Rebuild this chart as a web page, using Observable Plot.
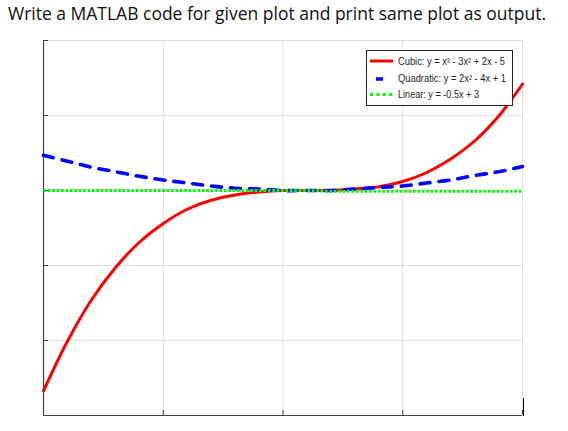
<!DOCTYPE html>
<html>
<head>
<meta charset="utf-8">
<script src="https://cdn.jsdelivr.net/npm/d3@7"></script>
<script src="https://cdn.jsdelivr.net/npm/@observablehq/plot@0.6"></script>
<style>
  html, body { margin: 0; padding: 0; background: #fff; }
  body { width: 568px; height: 431px; position: relative; overflow: hidden; }
  #title { display: block; overflow: visible; }
  #chart svg { display: block; overflow: visible; }
  #legend { position: absolute; left: 366px; top: 50px; }
  #cursor { position: absolute; left: 523px; top: 398px; width: 1px; height: 18px; background: #000; }
</style>
</head>
<body>
<svg id="title" width="568" height="30">
  <text x="8" y="20" font-family="'Open Sans', 'Noto Sans', sans-serif" font-size="18" fill="#111"
        textLength="538" lengthAdjust="spacingAndGlyphs">Write a MATLAB code for given plot and print same plot as output.</text>
</svg>
<div id="chart"></div>
<svg id="legend" width="148" height="57">
  <rect x="0.5" y="0.5" width="146" height="55" fill="#fff" stroke="#262626" stroke-width="1"></rect>
  <line x1="4" x2="27" y1="11" y2="11" stroke="#ff0000" stroke-width="3"></line>
  <line x1="10" x2="17" y1="29" y2="29" stroke="#0000ff" stroke-width="3.5"></line>
  <line x1="4" x2="27" y1="44.5" y2="44.5" stroke="#00ff00" stroke-width="3" stroke-dasharray="3,3.4"></line>
  <g font-family="'Liberation Sans', Arial, sans-serif" font-size="10" fill="#262626">
    <text x="32" y="14.5" textLength="107" lengthAdjust="spacingAndGlyphs">Cubic: y = x³ - 3x² + 2x - 5</text>
    <text x="32" y="32" textLength="108" lengthAdjust="spacingAndGlyphs">Quadratic: y = 2x² - 4x + 1</text>
    <text x="32" y="48" textLength="81" lengthAdjust="spacingAndGlyphs">Linear: y = -0.5x + 3</text>
  </g>
</svg>
<div id="cursor"></div>
<script>
// x samples (grid spans 4 intervals horizontally, 5 vertically)
const xs = [0, 0.2, 0.4, 0.6, 0.8, 1.0, 1.2, 1.4, 1.6, 1.8, 2.0, 2.2, 2.4, 2.6, 2.8, 3.0, 3.2, 3.4, 3.6, 3.8, 4.0];
const cubicY = [0.33, 0.99, 1.54, 1.97, 2.31, 2.56, 2.75, 2.87, 2.94, 2.98, 3.00, 3.00, 3.00, 3.02, 3.05, 3.12, 3.24, 3.42, 3.66, 3.99, 4.42];
const quadY  = [3.47, 3.39, 3.31, 3.25, 3.19, 3.14, 3.10, 3.06, 3.03, 3.02, 3.00, 3.00, 3.00, 3.02, 3.04, 3.06, 3.10, 3.14, 3.20, 3.25, 3.32];
const linearY = [3.00, 3.00, 3.00, 3.00, 3.00, 3.00, 3.00, 3.00, 3.00, 3.00, 3.00, 3.00, 2.99, 2.99, 2.99, 2.99, 2.99, 2.99, 2.99, 2.99, 2.99];
const xTicks = [0, 1, 2, 3, 4];
const yTicks = [0, 1, 2, 3, 4, 5];
const xDomain = [0, 4];
const yDomain = [0, 5];

const cubic = xs.map((x, i) => ({x, y: cubicY[i]}));
const quad = xs.map((x, i) => ({x, y: quadY[i]}));
const linear = xs.map((x, i) => ({x, y: linearY[i]}));

const axisColor = "#404040";
const gridColor = "#dedede";

const chart = Plot.plot({
  width: 568,
  height: 401,
  marginTop: 10,
  marginBottom: 16,
  marginLeft: 43,
  marginRight: 46,
  style: { background: "transparent", overflow: "visible" },
  x: { domain: xDomain, label: null },
  y: { domain: yDomain, label: null },
  marks: [
    Plot.gridX(xTicks, { stroke: gridColor, strokeOpacity: 1 }),
    Plot.gridY(yTicks, { stroke: gridColor, strokeOpacity: 1 }),
    Plot.axisX({ ticks: xTicks, tickSize: -5, tickFormat: () => "", label: null, stroke: axisColor, strokeOpacity: 1 }),
    Plot.axisY({ ticks: yTicks, tickSize: -5, tickFormat: () => "", label: null, stroke: axisColor, strokeOpacity: 1 }),
    Plot.ruleY([yDomain[0]], { stroke: axisColor, strokeWidth: 1.2 }),
    Plot.ruleX([xDomain[0]], { stroke: axisColor, strokeWidth: 1.2 }),
    Plot.line(cubic, { x: "x", y: "y", stroke: "#ff0000", strokeWidth: 3, curve: "catmull-rom" }),
    Plot.line(quad, { x: "x", y: "y", stroke: "#0000ff", strokeWidth: 3.6, strokeDasharray: "10,9", curve: "catmull-rom" }),
    Plot.line(linear, { x: "x", y: "y", stroke: "#00ff00", strokeWidth: 3, strokeDasharray: "2.6,1.8", strokeLinecap: "butt" })
  ]
});
document.getElementById("chart").appendChild(chart);
</script>
</body>
</html>
